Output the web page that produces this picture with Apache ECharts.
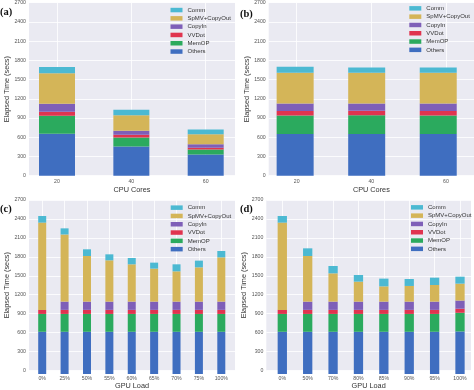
<!DOCTYPE html>
<html>
<head>
<meta charset="utf-8">
<script src="https://cdn.jsdelivr.net/npm/echarts@6/dist/echarts.min.js"></script>
<style>html,body{margin:0;padding:0;background:#fff;}#c{width:474px;height:390px;}</style>
</head>
<body>
<div id="c"></div>
<script>
// ---- data ----
const seriesNames = ['Others', 'MemOP', 'VVDot', 'CopyIn', 'SpMV+CopyOut', 'Comm'];
const legendOrder = ['Comm', 'SpMV+CopyOut', 'CopyIn', 'VVDot', 'MemOP', 'Others'];

const catsA = ['20', '40', '60'];
const othersA = [655, 455, 330];
const memopA = [282, 140, 78];
const vvdotA = [60, 45, 30];
const copyinA = [125, 60, 52];
const spmvA = [475, 245, 155];
const commA = [100, 85, 75];

const catsB = ['20', '40', '60'];
const othersB = [650, 652, 650];
const memopB = [290, 290, 290];
const vvdotB = [70, 70, 70];
const copyinB = [115, 115, 115];
const spmvB = [480, 480, 480];
const commB = [95, 80, 85];

const catsC = ['0%', '25%', '50%', '55%', '60%', '65%', '70%', '75%', '100%'];
const othersC = [655, 655, 655, 655, 655, 655, 655, 655, 655];
const memopC = [277, 277, 277, 277, 277, 277, 277, 277, 277];
const vvdotC = [63, 63, 63, 63, 63, 63, 63, 63, 63];
const copyinC = [0, 128, 128, 128, 128, 128, 128, 128, 128];
const spmvC = [1354, 1042, 708, 641, 579, 512, 470, 532, 687];
const commC = [103, 95, 104, 93, 98, 93, 109, 104, 99];

const catsD = ['0%', '50%', '70%', '80%', '85%', '90%', '95%', '100%'];
const othersD = [655, 655, 655, 655, 655, 655, 655, 660];
const memopD = [277, 277, 277, 277, 277, 277, 277, 290];
const vvdotD = [63, 63, 63, 63, 63, 63, 63, 63];
const copyinD = [0, 128, 128, 128, 128, 128, 128, 127];
const spmvD = [1354, 708, 439, 310, 237, 243, 258, 262];
const commD = [103, 119, 114, 103, 120, 108, 114, 108];

const yMin = 0, yMax = 2700, yStep = 300;
const yName = 'Elapsed Time (secs)';

// ---- styles ----
const colors = {
  'Others': '#3F6EC0', 'MemOP': '#2BAA5E', 'VVDot': '#E0344F',
  'CopyIn': '#7E5FB8', 'SpMV+CopyOut': '#D4B558', 'Comm': '#4CB9D2'
};
const FONT = '"Liberation Sans", Arial, sans-serif';
const W = 474;

const panels = [
  { label: '(a)', cats: catsA, vals: [othersA, memopA, vvdotA, copyinA, spmvA, commA], xName: 'CPU Cores',
    bg: { left: 29, right: 239, top: 2.7, bottom: 214.3 }, bars: { left: 57, right: 268.3 }, barWidth: 36,
    legend: { left: 170.5, top: 5.9 }, labelPos: [0, 12.5], xNameGap: 10.5, xLabelMargin: 3 },
  { label: '(b)', cats: catsB, vals: [othersB, memopB, vvdotB, copyinB, spmvB, commB], xName: 'CPU Cores',
    bg: { left: 268.7, right: 0, top: 2.7, bottom: 214.3 }, bars: { left: 296.7, right: 28 }, barWidth: 37,
    legend: { left: 409.3, top: 4.2 }, labelPos: [240, 15], xNameGap: 10.5, xLabelMargin: 3 },
  { label: '(c)', cats: catsC, vals: [othersC, memopC, vvdotC, copyinC, spmvC, commC], xName: 'GPU Load',
    bg: { left: 29, right: 239, top: 200, bottom: 16 }, bars: { left: 42.2, right: 252.7 }, barWidth: 8,
    legend: { left: 170.7, top: 203.5 }, labelPos: [0, 210], xNameGap: 11.5, xLabelMargin: 2.5 },
  { label: '(d)', cats: catsD, vals: [othersD, memopD, vvdotD, copyinD, spmvD, commD], xName: 'GPU Load',
    bg: { left: 266.3, right: 3, top: 200, bottom: 16 }, bars: { left: 282.3, right: 14 }, barWidth: 9.3,
    legend: { left: 411, top: 203.2 }, labelPos: [240, 210], xNameGap: 11.5, xLabelMargin: 2.5 }
];

const grid = [], xAxis = [], yAxis = [], series = [], legend = [], graphic = [];
const noFmt = (v) => String(v);

panels.forEach((p, pi) => {
  const cats = p.cats;
  const n = cats.length;
  const sp = (W - p.bars.left - p.bars.right) / (n - 1);

  // 1) background grid with y axis
  const gBg = grid.length;
  grid.push({ left: p.bg.left, right: p.bg.right, top: p.bg.top, bottom: p.bg.bottom,
    show: true, backgroundColor: '#EAEAF2', borderWidth: 0 });
  xAxis.push({ gridIndex: gBg, type: 'value', min: 0, max: 1,
    axisLine: { show: false }, axisTick: { show: false }, axisLabel: { show: false }, splitLine: { show: false },
    name: p.xName, nameLocation: 'middle', nameGap: p.xNameGap,
    nameTextStyle: { fontFamily: FONT, fontSize: 7.3, color: '#333' } });
  yAxis.push({ gridIndex: gBg, type: 'value', min: yMin, max: yMax, interval: yStep,
    axisLine: { show: false }, axisTick: { show: false },
    axisLabel: { fontFamily: FONT, fontSize: 5.2, color: '#555', margin: 3, formatter: noFmt },
    splitLine: { show: true, lineStyle: { color: '#FFFFFF', width: 0.8 } },
    name: yName, nameLocation: 'middle', nameGap: 18,
    nameTextStyle: { fontFamily: FONT, fontSize: 7.3, color: '#333' } });

  // 2) tick grid: vertical grid lines + labels at the bar centres
  const gT = grid.length;
  grid.push({ left: p.bars.left, right: p.bars.right, top: p.bg.top, bottom: p.bg.bottom });
  xAxis.push({ gridIndex: gT, type: 'value', min: 0, max: n - 1, interval: 1,
    axisLine: { show: false }, axisTick: { show: false },
    axisLabel: { fontFamily: FONT, fontSize: 5.2, color: '#555', margin: p.xLabelMargin,
      formatter: (v) => cats[Math.round(v)] },
    splitLine: { show: true, lineStyle: { color: '#FFFFFF', width: 0.8 } } });
  yAxis.push({ gridIndex: gT, type: 'value', min: yMin, max: yMax, show: false });

  // 3) bar grid with a category axis (for stacking)
  const gB = grid.length;
  grid.push({ left: p.bars.left - sp / 2, right: p.bars.right - sp / 2, top: p.bg.top, bottom: p.bg.bottom });
  const xB = xAxis.length;
  xAxis.push({ gridIndex: gB, type: 'category', data: cats, show: false, boundaryGap: true });
  const yB = yAxis.length;
  yAxis.push({ gridIndex: gB, type: 'value', min: yMin, max: yMax, show: false });

  seriesNames.forEach((name, si) => {
    series.push({
      name: name, type: 'bar', xAxisIndex: xB, yAxisIndex: yB, stack: 'p' + pi,
      barWidth: p.barWidth, silent: true, animation: false,
      itemStyle: { color: colors[name] },
      data: p.vals[si]
    });
  });

  legend.push({
    data: legendOrder, orient: 'vertical', left: p.legend.left, top: p.legend.top,
    icon: 'rect', itemWidth: 12, itemHeight: 4.5, itemGap: 0, selectedMode: false,
    textStyle: { fontFamily: FONT, fontSize: 6, color: '#333', lineHeight: 8.3 },
    padding: 0
  });

  graphic.push({ type: 'text', left: p.labelPos[0], top: p.labelPos[1] - 6,
    style: { text: p.label, font: 'bold 10.5px "Liberation Serif", "DejaVu Serif", serif', fill: '#111' } });
});

const chart = echarts.init(document.getElementById('c'), null, { renderer: 'canvas' });
chart.setOption({
  animation: false,
  backgroundColor: '#ffffff',
  grid, xAxis, yAxis, series, legend, graphic
});
</script>
</body>
</html>
